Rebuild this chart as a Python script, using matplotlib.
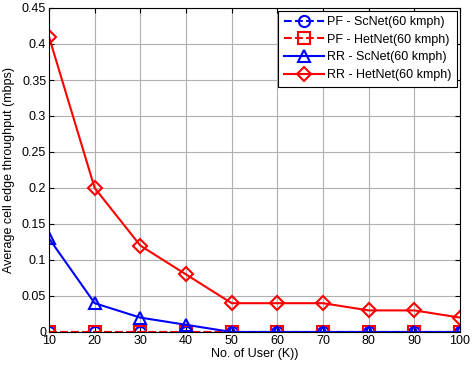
import matplotlib
matplotlib.use("Agg")
import matplotlib.pyplot as plt

plt.rcParams['font.family'] = ['Liberation Sans', 'DejaVu Sans']

users = [10, 20, 30, 40, 50, 60, 70, 80, 90, 100]
pf_scnet = [0, 0, 0, 0, 0, 0, 0, 0, 0, 0]
pf_hetnet = [0, 0, 0, 0, 0, 0, 0, 0, 0, 0]
rr_scnet = [0.13, 0.04, 0.02, 0.01, 0, 0, 0, 0, 0, 0]
rr_hetnet = [0.41, 0.20, 0.12, 0.08, 0.04, 0.04, 0.04, 0.03, 0.03, 0.02]
yticks = [0, 0.05, 0.1, 0.15, 0.2, 0.25, 0.3, 0.35, 0.4, 0.45]
ytick_labels = ['0', '0.05', '0.1', '0.15', '0.2', '0.25', '0.3', '0.35', '0.4', '0.45']

fig = plt.figure(figsize=(4.74, 3.65), dpi=100)
ax = fig.add_axes([49/474, 1-332/365, (460-49)/474, (332-8)/365])

ms = 8
ax.plot(users, pf_scnet, 'b--o', mfc='none', ms=ms, mew=1.5, lw=1.5, label='PF - ScNet(60 kmph)')
ax.plot(users, pf_hetnet, 'r--s', mfc='none', ms=ms, mew=1.5, lw=1.5, label='PF - HetNet(60 kmph)')
ax.plot(users, rr_scnet, 'b-^', mfc='none', ms=ms, mew=1.5, lw=1.5, label='RR - ScNet(60 kmph)')
ax.plot(users, rr_hetnet, 'r-D', mfc='none', ms=ms-1, mew=1.5, lw=1.5, label='RR - HetNet(60 kmph)')

ax.set_xlim(10, 100)
ax.set_ylim(0, 0.45)
ax.set_xticks(users)
ax.set_yticks(yticks)
ax.set_yticklabels(ytick_labels)
ax.grid(True, color='#b0b0b0', lw=0.8)
ax.tick_params(direction='in', top=True, right=True, labelsize=9, pad=2)
for s in ax.spines.values():
    s.set_linewidth(0.8)
ax.set_xlabel('No. of User (K))', fontsize=9, labelpad=1)
ax.set_ylabel('Average cell edge throughput (mbps)', fontsize=9, labelpad=5)
leg = ax.legend(loc='upper right', fontsize=9, fancybox=False, edgecolor='black',
                framealpha=1, borderaxespad=0.2, handlelength=3.2, labelspacing=0.45,
                borderpad=0.45, handletextpad=0.3)
leg.get_frame().set_linewidth(0.8)

fig.savefig('out.png', dpi=100)
